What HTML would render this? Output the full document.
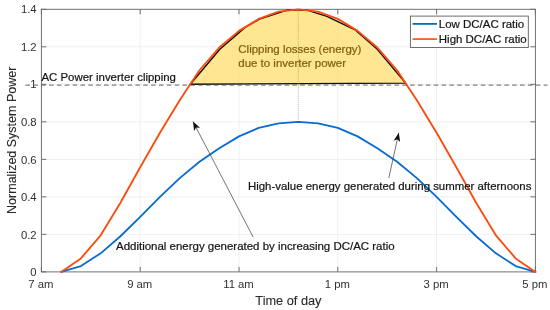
<!DOCTYPE html><html><head><meta charset="utf-8"><title>chart</title>
<style>html,body{margin:0;padding:0;background:#fff}svg{display:block;filter:blur(0.35px)}text{font-family:"Liberation Sans",Arial,sans-serif;fill:#161616;stroke:#161616;stroke-width:0.22px}</style></head><body>
<svg width="550" height="310" viewBox="0 0 550 310">
<rect width="550" height="310" fill="#fff"/>
<path d="M140.20 9.3 V271.9 M239.00 9.3 V271.9 M337.80 9.3 V271.9 M436.60 9.3 V271.9 M41.4 234.39 H535.4 M41.4 196.87 H535.4 M41.4 159.36 H535.4 M41.4 121.84 H535.4 M41.4 84.33 H535.4 M41.4 46.81 H535.4" stroke="#efefef" stroke-width="1" fill="none"/>
<rect x="41.4" y="9.3" width="494.0" height="262.59999999999997" fill="none" stroke="#6a6a6a" stroke-width="0.95"/>
<path d="M41.40 271.9 v-5 M41.40 9.3 v5 M140.20 271.9 v-5 M140.20 9.3 v5 M239.00 271.9 v-5 M239.00 9.3 v5 M337.80 271.9 v-5 M337.80 9.3 v5 M436.60 271.9 v-5 M436.60 9.3 v5 M535.40 271.9 v-5 M535.40 9.3 v5 M41.4 271.90 h5 M535.4 271.90 h-5 M41.4 234.39 h5 M535.4 234.39 h-5 M41.4 196.87 h5 M535.4 196.87 h-5 M41.4 159.36 h5 M535.4 159.36 h-5 M41.4 121.84 h5 M535.4 121.84 h-5 M41.4 84.33 h5 M535.4 84.33 h-5 M41.4 46.81 h5 M535.4 46.81 h-5 M41.4 9.30 h5 M535.4 9.30 h-5" stroke="#6a6a6a" stroke-width="0.95" fill="none"/>
<path d="M298.28 121.84 V9.30" stroke="#a0a0a0" stroke-width="0.8" stroke-dasharray="1 1.1" fill="none"/>
<polygon points="190.30,84.20 219.80,49.30 244.80,27.60 259.50,19.20 288.00,9.90 307.00,10.20 327.00,16.30 355.00,29.80 377.30,49.20 405.60,83.10" fill="#fdd54b" fill-opacity="0.6" stroke="#0c0c0c" stroke-width="1.4" stroke-linejoin="round"/>
<path d="M298.28 84.33 V9.30" stroke="#d3b868" stroke-width="0.8" stroke-dasharray="1 1.1" fill="none"/>
<polyline points="61.16,271.90 80.92,266.09 100.68,253.33 120.44,236.26 140.20,216.94 159.96,196.87 179.72,178.11 199.48,161.80 219.24,148.29 239.00,136.34 258.76,127.94 278.52,123.34 298.28,121.84 318.04,123.34 337.80,127.94 357.56,136.34 377.32,148.29 397.08,161.80 416.84,178.11 436.60,196.87 456.36,216.94 476.12,236.26 495.88,253.33 515.64,266.09 535.40,271.90" fill="none" stroke="#0a6cd0" stroke-width="1.85" stroke-linejoin="round" stroke-linecap="round"/>
<polyline points="61.16,271.90 80.92,258.39 100.68,235.32 120.44,202.78 140.20,167.24 159.96,132.72 179.72,100.27 199.48,70.26 219.24,47.56 239.00,30.87 258.76,18.87 278.52,11.55 298.28,9.30 318.04,11.55 337.80,18.87 357.56,30.87 377.32,47.56 397.08,70.26 416.84,100.27 436.60,132.72 456.36,167.24 476.12,202.78 495.88,235.32 515.64,258.39 535.40,271.90" fill="none" stroke="#fc4b0e" stroke-width="1.85" stroke-linejoin="round" stroke-linecap="round"/>
<defs><marker id="ah" viewBox="0 0 10 10" refX="10" refY="5" markerWidth="8.8" markerHeight="8.8" markerUnits="userSpaceOnUse" orient="auto"><path d="M0 1.2 L10 5 L0 8.8 L2.5 5 Z" fill="#111"/></marker></defs>
<path d="M253.2 237.2 L193 121.6" stroke="#3a3a3a" stroke-width="0.7" fill="none" marker-end="url(#ah)"/>
<path d="M388.8 178 L398.8 132.8" stroke="#3a3a3a" stroke-width="0.7" fill="none" marker-end="url(#ah)"/>
<text x="238.3" y="52.5" font-size="11.47" style="fill:#80600c;stroke:#80600c">Clipping losses (energy)</text>
<text x="238.3" y="67" font-size="11.47" style="fill:#80600c;stroke:#80600c">due to inverter power</text>
<text x="41.5" y="81" font-size="11.42">AC Power inverter clipping</text>
<text x="248.0" y="189.5" font-size="11.42">High-value energy generated during summer afternoons</text>
<text x="116" y="250" font-size="11.47">Additional energy generated by increasing DC/AC ratio</text>
<rect x="410.4" y="16.1" width="117.9" height="31.4" fill="#fff" stroke="#5e5e5e" stroke-width="0.9"/>
<path d="M412.5 23.9 H437" stroke="#0072bd" stroke-width="1.8"/>
<path d="M412.5 39.1 H437" stroke="#fd5f1e" stroke-width="1.8"/>
<text x="438.8" y="28.1" font-size="11.47">Low DC/AC ratio</text>
<text x="438.8" y="43.3" font-size="11.47">High DC/AC ratio</text>
<text x="40.90" y="288.1" font-size="11.3" text-anchor="middle" style="fill:#303030;stroke:none">7 am</text>
<text x="139.70" y="288.1" font-size="11.3" text-anchor="middle" style="fill:#303030;stroke:none">9 am</text>
<text x="238.50" y="288.1" font-size="11.3" text-anchor="middle" style="fill:#303030;stroke:none">11 am</text>
<text x="337.30" y="288.1" font-size="11.3" text-anchor="middle" style="fill:#303030;stroke:none">1 pm</text>
<text x="436.10" y="288.1" font-size="11.3" text-anchor="middle" style="fill:#303030;stroke:none">3 pm</text>
<text x="534.90" y="288.1" font-size="11.3" text-anchor="middle" style="fill:#303030;stroke:none">5 pm</text>
<text x="36.6" y="276.05" font-size="11.3" text-anchor="end" style="fill:#303030;stroke:none">0</text>
<text x="36.6" y="238.54" font-size="11.3" text-anchor="end" style="fill:#303030;stroke:none">0.2</text>
<text x="36.6" y="201.02" font-size="11.3" text-anchor="end" style="fill:#303030;stroke:none">0.4</text>
<text x="36.6" y="163.51" font-size="11.3" text-anchor="end" style="fill:#303030;stroke:none">0.6</text>
<text x="36.6" y="125.99" font-size="11.3" text-anchor="end" style="fill:#303030;stroke:none">0.8</text>
<text x="36.6" y="88.48" font-size="11.3" text-anchor="end" style="fill:#303030;stroke:none">1</text>
<text x="36.6" y="50.96" font-size="11.3" text-anchor="end" style="fill:#303030;stroke:none">1.2</text>
<text x="36.6" y="13.45" font-size="11.3" text-anchor="end" style="fill:#303030;stroke:none">1.4</text>
<text x="288.4" y="305.0" font-size="12.75" text-anchor="middle" style="fill:#2c2c2c;stroke-width:0.1px">Time of day</text>
<text transform="translate(15.6 140.3) rotate(-90)" font-size="12.5" text-anchor="middle" style="fill:#2c2c2c;stroke-width:0.1px">Normalized System Power</text>
<path d="M25.5 85.1 H547.5" stroke="#5c5c5c" stroke-width="0.95" stroke-dasharray="4.55 3.3" fill="none"/>
</svg></body></html>
